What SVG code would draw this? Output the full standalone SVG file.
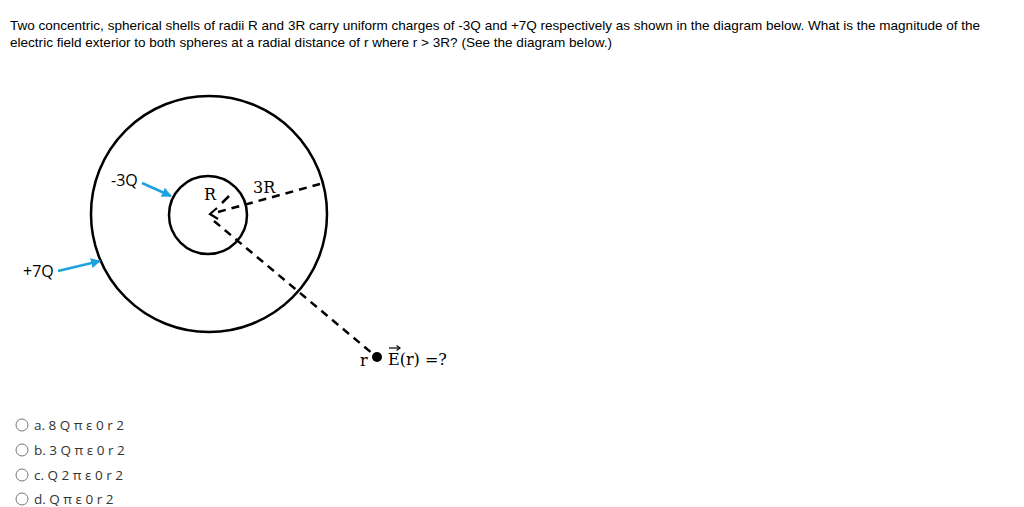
<svg xmlns="http://www.w3.org/2000/svg" width="1024" height="507" viewBox="0 0 1024 507">
<defs>
<style>
.q{font-family:"Liberation Sans",Arial,sans-serif;font-size:13px;fill:#000}
.lbl{font-family:"Open Sans","Noto Sans",sans-serif;font-size:16px;fill:#000}
.ser{font-family:"DejaVu Serif","Liberation Serif",serif;font-size:16px;fill:#000}
.opt{font-family:"Open Sans","Noto Sans",sans-serif;font-size:13.5px;fill:#333}
.shell{fill:none;stroke:#000;stroke-width:2.5}
.dash{fill:none;stroke:#000;stroke-width:2.5;stroke-dasharray:8 6}
.blue{fill:none;stroke:#1ca3de;stroke-width:2.5}
.radio{fill:#fff;stroke:#777;stroke-width:1}
</style>
<marker id="bh" viewBox="0 0 10 10" refX="9" refY="5" markerWidth="4" markerHeight="4" orient="auto"><path d="M0,0 L10,5 L0,10 z" fill="#1ca3de"/></marker>
</defs>
<rect width="1024" height="507" fill="#fff"/>
<text class="q" x="10" y="30" textLength="970" lengthAdjust="spacingAndGlyphs">Two concentric, spherical shells of radii R and 3R carry uniform charges of -3Q and +7Q respectively as shown in the diagram below. What is the magnitude of the</text>
<text class="q" x="10" y="47" textLength="602" lengthAdjust="spacingAndGlyphs">electric field exterior to both spheres at a radial distance of r where r &gt; 3R? (See the diagram below.)</text>
<g id="outer-shell"><circle class="shell" cx="209" cy="214" r="118"/></g>
<g id="inner-shell"><circle class="shell" cx="208" cy="215" r="39"/></g>
<g id="point-r"><circle cx="377" cy="357" r="5" fill="#000"/></g>
<g id="connectors">
<line class="blue" x1="142" y1="183" x2="171" y2="196" marker-end="url(#bh)"/>
<line class="blue" x1="58" y1="271" x2="100" y2="261" marker-end="url(#bh)"/>
<line x1="222" y1="203" x2="229" y2="196" stroke="#000" stroke-width="2.5"/>
<line class="dash" x1="218" y1="212" x2="320" y2="184" stroke-dasharray="7 5"/>
<path d="M217,208 L210,214 L218,219" fill="none" stroke="#000" stroke-width="2.2"/>
<line class="dash" x1="214" y1="221" x2="373" y2="354"/>
</g>
<g id="labels">
<text class="lbl" x="111" y="186">-3Q</text>
<text class="lbl" x="23" y="277">+7Q</text>
<text class="ser" x="204" y="200">R</text>
<text class="ser" x="253" y="193">3R</text>
<text class="ser" x="360" y="366">r</text>
<text class="ser" x="388" y="365">E(r) =?</text>
<line x1="389" y1="348" x2="399" y2="348" stroke="#000" stroke-width="1.2"/>
<path d="M396.5,345.5 L400,348 L396.5,350.5" fill="none" stroke="#000" stroke-width="1.2"/>
</g>
<g id="options">
<circle class="radio" cx="22" cy="425" r="6"/>
<text class="opt" x="34" y="430">a. 8 Q π ε 0 r 2</text>
<circle class="radio" cx="22" cy="450" r="6"/>
<text class="opt" x="34" y="455">b. 3 Q π ε 0 r 2</text>
<circle class="radio" cx="22" cy="475" r="6"/>
<text class="opt" x="34" y="480">c. Q 2 π ε 0 r 2</text>
<circle class="radio" cx="22" cy="499" r="6"/>
<text class="opt" x="34" y="504">d. Q π ε 0 r 2</text>
</g>
</svg>
